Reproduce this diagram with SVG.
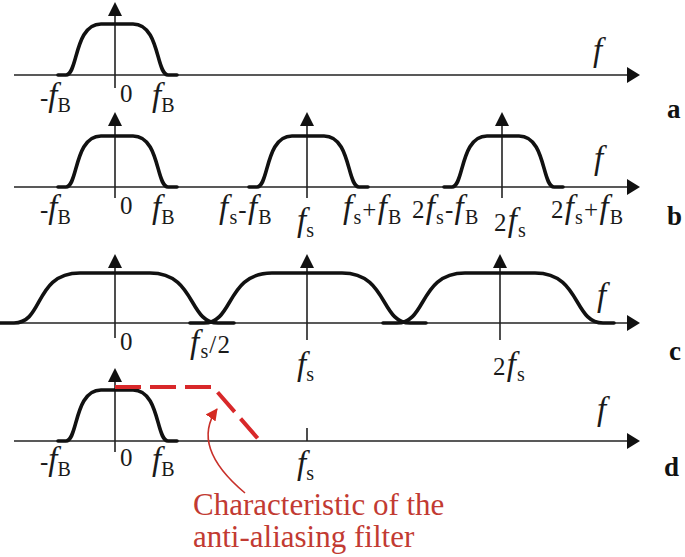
<svg xmlns="http://www.w3.org/2000/svg" width="685" height="557" viewBox="0 0 685 557">
<style>
.ax{stroke:#222;stroke-width:1.6;fill:none}
.pl{stroke:#111;stroke-width:3.6;fill:none;stroke-linecap:round;stroke-linejoin:round}
.ah{fill:#111}
.t{font-family:"Liberation Serif","Times New Roman",serif;font-size:25px;fill:#1a1a1a}
.w{letter-spacing:1.2px}
.fi{font-style:italic;font-size:33px}
.sb{font-size:20px}
.lt{font-family:"Liberation Serif","Times New Roman",serif;font-size:27px;font-weight:bold;fill:#111}
.rd{font-family:"Liberation Serif","Times New Roman",serif;font-size:31px;fill:#c23a32}
</style>
<defs>
<marker id="ra" viewBox="0 0 12 12" refX="11" refY="6" markerWidth="12" markerHeight="12" markerUnits="userSpaceOnUse" orient="auto">
<path d="M0,0 L12,6 L0,12 Z" fill="#d42a22"/>
</marker>
</defs>

<g id="panel-a">
<line class="ax" x1="14" y1="75" x2="630" y2="75"/>
<polygon class="ah" points="640,75 627,67 627,83"/>
<line class="ax" x1="115" y1="88" x2="115" y2="14"/>
<polygon class="ah" points="115,2 108,16 122,16"/>
<path class="pl" d="M58,75 L66,75 C78,75 74,24 101,24 L133,24 C160,24 156,75 168,75 L177,75"/>
<text class="t" x="40" y="106">-<tspan class="fi">f</tspan><tspan class="sb" dy="6">B</tspan></text>
<text class="t" x="120" y="102">0</text>
<text class="t" x="152" y="106"><tspan class="fi">f</tspan><tspan class="sb" dy="6">B</tspan></text>
<text class="t" x="593" y="61"><tspan class="fi">f</tspan></text>
<text class="lt" x="667" y="118">a</text>
</g>

<g id="panel-b">
<line class="ax" x1="14" y1="187" x2="630" y2="187"/>
<polygon class="ah" points="640,187 627,179 627,195"/>
<line class="ax" x1="115" y1="198" x2="115" y2="124"/>
<polygon class="ah" points="115,112 108,126 122,126"/>
<line class="ax" x1="307" y1="198" x2="307" y2="124"/>
<polygon class="ah" points="307,112 300,126 314,126"/>
<line class="ax" x1="502" y1="198" x2="502" y2="124"/>
<polygon class="ah" points="502,112 495,126 509,126"/>
<path class="pl" d="M58,187 L66,187 C78,187 74,136 101,136 L133,136 C160,136 156,187 168,187 L177,187"/>
<path class="pl" d="M249,187 L257,187 C269,187 265,136 292,136 L324,136 C351,136 347,187 359,187 L368,187"/>
<path class="pl" d="M444,187 L452,187 C464,187 460,136 487,136 L519,136 C546,136 542,187 554,187 L563,187"/>
<text class="t" x="40" y="218">-<tspan class="fi">f</tspan><tspan class="sb" dy="6">B</tspan></text>
<text class="t" x="120" y="214">0</text>
<text class="t" x="152" y="218"><tspan class="fi">f</tspan><tspan class="sb" dy="6">B</tspan></text>
<text class="t w" x="219" y="218"><tspan class="fi">f</tspan><tspan class="sb" dy="6">s</tspan><tspan dy="-6">-</tspan><tspan class="fi">f</tspan><tspan class="sb" dy="6">B</tspan></text>
<text class="t" x="297" y="231"><tspan class="fi">f</tspan><tspan class="sb" dy="6">s</tspan></text>
<text class="t w" x="343" y="218"><tspan class="fi">f</tspan><tspan class="sb" dy="6">s</tspan><tspan dy="-6">+</tspan><tspan class="fi">f</tspan><tspan class="sb" dy="6">B</tspan></text>
<text class="t w" x="412" y="218">2<tspan class="fi">f</tspan><tspan class="sb" dy="6">s</tspan><tspan dy="-6">-</tspan><tspan class="fi">f</tspan><tspan class="sb" dy="6">B</tspan></text>
<text class="t w" x="494" y="231">2<tspan class="fi">f</tspan><tspan class="sb" dy="6">s</tspan></text>
<text class="t w" x="551" y="218">2<tspan class="fi">f</tspan><tspan class="sb" dy="6">s</tspan><tspan dy="-6">+</tspan><tspan class="fi">f</tspan><tspan class="sb" dy="6">B</tspan></text>
<text class="t" x="594" y="169"><tspan class="fi">f</tspan></text>
<text class="lt" x="667" y="225">b</text>
</g>

<g id="panel-c">
<line class="ax" x1="0" y1="323" x2="630" y2="323"/>
<polygon class="ah" points="640,323 627,315 627,331"/>
<line class="ax" x1="115" y1="338" x2="115" y2="266"/>
<polygon class="ah" points="115,254 108,268 122,268"/>
<line class="ax" x1="307" y1="340" x2="307" y2="266"/>
<polygon class="ah" points="307,254 300,268 314,268"/>
<line class="ax" x1="500" y1="340" x2="500" y2="266"/>
<polygon class="ah" points="500,254 493,268 507,268"/>
<path class="pl" d="M-3,323 L14,323 C44,323 34,273 80,273 L150,273 C196,273 188,323 218,323 L234,323"/>
<path class="pl" d="M190,323 L204,323 C234,323 226,273 272,273 L342,273 C388,273 380,323 410,323 L426,323"/>
<path class="pl" d="M383,323 L397,323 C427,323 419,273 465,273 L535,273 C581,273 573,323 603,323 L614,323"/>
<text class="t" x="120" y="350">0</text>
<text class="t w" x="190" y="353"><tspan class="fi">f</tspan><tspan class="sb" dy="5">s</tspan><tspan dy="-5">/2</tspan></text>
<text class="t" x="297" y="375"><tspan class="fi">f</tspan><tspan class="sb" dy="6">s</tspan></text>
<text class="t w" x="493" y="375">2<tspan class="fi">f</tspan><tspan class="sb" dy="6">s</tspan></text>
<text class="t" x="597" y="306"><tspan class="fi">f</tspan></text>
<text class="lt" x="669" y="360">c</text>
</g>

<g id="panel-d">
<line class="ax" x1="14" y1="441" x2="630" y2="441"/>
<polygon class="ah" points="640,441 627,433 627,449"/>
<line class="ax" x1="115" y1="452" x2="115" y2="380"/>
<polygon class="ah" points="115,368 108,382 122,382"/>
<line class="ax" x1="307" y1="428" x2="307" y2="441"/>
<path class="pl" d="M58,441 L66,441 C78,441 74,390 101,390 L133,390 C160,390 156,441 168,441 L177,441"/>
<path d="M115,387 L213,387 L260,441" fill="none" stroke="#d8282a" stroke-width="4" stroke-dasharray="26 9"/>
<text class="t" x="40" y="470">-<tspan class="fi">f</tspan><tspan class="sb" dy="6">B</tspan></text>
<text class="t" x="120" y="466">0</text>
<text class="t" x="152" y="470"><tspan class="fi">f</tspan><tspan class="sb" dy="6">B</tspan></text>
<text class="t" x="297" y="474"><tspan class="fi">f</tspan><tspan class="sb" dy="6">s</tspan></text>
<text class="t" x="597" y="420"><tspan class="fi">f</tspan></text>
<text class="lt" x="664" y="476">d</text>
</g>

<g id="annotation">
<path d="M245,493 Q190,447 217,409" fill="none" stroke="#c8302a" stroke-width="1.6" marker-end="url(#ra)"/>
<text class="rd" x="193" y="515">Characteristic of the</text>
<text class="rd" x="193" y="547">anti-aliasing filter</text>
</g>
</svg>
